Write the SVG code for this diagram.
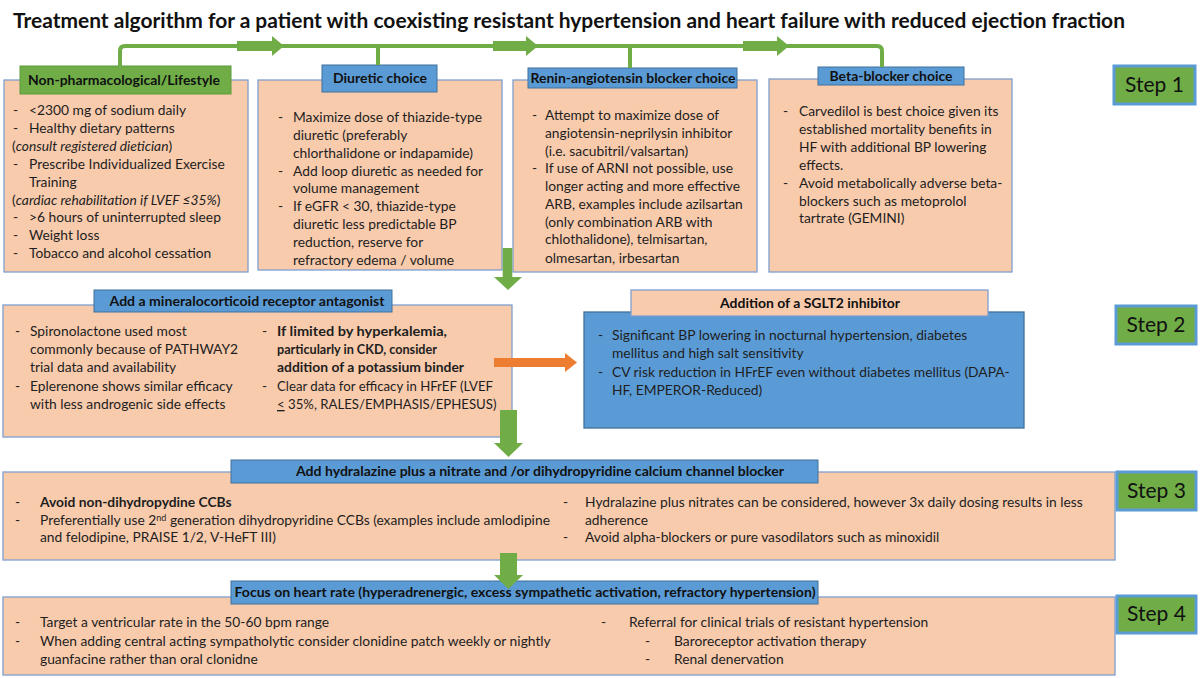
<svg xmlns="http://www.w3.org/2000/svg" width="1200" height="678" viewBox="0 0 1200 678">
<style>
.box{fill:#f8cbad;stroke:#7f9fcf;stroke-width:1.3}
.lbl{fill:#5b9bd5;stroke:#41719c;stroke-width:1}
.plbl{fill:#f8cbad;stroke:#7f9fcf;stroke-width:1.3}
.blue{fill:#5b9bd5;stroke:#41719c;stroke-width:1.3}
.glbl{fill:#70ad47;stroke:#5b9b3a;stroke-width:1}
.step{fill:#70ad47;stroke:#5b9bd5;stroke-width:3}
.t{font-family:Lato,"Liberation Sans",sans-serif;font-size:13.8px;fill:#1e1e1e}
.r{font-size:13.2px}
.b{font-weight:bold}
.h{font-family:Lato,"Liberation Sans",sans-serif;font-size:14px;font-weight:bold;fill:#111;text-anchor:middle}
.st{font-family:Lato,"Liberation Sans",sans-serif;font-size:21px;fill:#111;text-anchor:middle}
.gl{fill:none;stroke:#70ad47;stroke-width:4}
.ga{fill:#70ad47}
.oa{fill:#ed7d31}
</style>
<rect width="1200" height="678" fill="#ffffff"/>
<text x="13" y="28" font-family="Lato,'Liberation Sans',sans-serif" font-size="20" font-weight="bold" fill="#111" textLength="1112" lengthAdjust="spacingAndGlyphs">Treatment algorithm for a patient with coexisting resistant hypertension and heart failure with reduced ejection fraction</text>

<g id="nonpharm">
<rect class="box" x="4" y="80" width="244" height="192"/>
<rect class="glbl" x="20" y="66" width="211" height="28"/>
<text class="h" x="124" y="85" textLength="192" lengthAdjust="spacingAndGlyphs">Non-pharmacological/Lifestyle</text>
<g class="t">
<text x="13" y="115">-</text><text x="29" y="115">&lt;2300 mg of sodium daily</text>
<text x="13" y="133">-</text><text x="29" y="133">Healthy dietary patterns</text>
<text x="12" y="151">(<tspan font-style="italic">consult registered dietician</tspan>)</text>
<text x="13" y="169">-</text><text x="29" y="169">Prescribe Individualized Exercise</text>
<text x="29" y="187">Training</text>
<text x="12" y="205">(<tspan font-style="italic">cardiac rehabilitation if LVEF ≤35%</tspan>)</text>
<text x="13" y="222">-</text><text x="29" y="222">&gt;6 hours of uninterrupted  sleep</text>
<text x="13" y="240">-</text><text x="29" y="240">Weight loss</text>
<text x="13" y="258">-</text><text x="29" y="258">Tobacco and alcohol cessation</text>
</g>
</g>

<g id="diuretic">
<rect class="box" x="258" y="80" width="244" height="190"/>
<rect class="lbl" x="322" y="65" width="115" height="27"/>
<text class="h" x="380" y="83" textLength="94" lengthAdjust="spacingAndGlyphs">Diuretic choice</text>
<g class="t">
<text x="278" y="122">-</text><text x="293" y="122">Maximize dose of thiazide-type</text>
<text x="293" y="140">diuretic (preferably</text>
<text x="293" y="158">chlorthalidone or indapamide)</text>
<text x="278" y="176">-</text><text x="293" y="176">Add loop diuretic as needed for</text>
<text x="293" y="193">volume management</text>
<text x="278" y="211">-</text><text x="293" y="211">If eGFR &lt; 30, thiazide-type</text>
<text x="293" y="229">diuretic less predictable BP</text>
<text x="293" y="247">reduction, reserve for</text>
<text x="293" y="265">refractory edema / volume</text>
</g>
</g>

<g id="ras">
<rect class="box" x="513" y="80" width="244" height="192"/>
<rect class="lbl" x="528" y="68" width="209" height="20"/>
<text class="h" x="633" y="83" textLength="205" lengthAdjust="spacingAndGlyphs">Renin-angiotensin blocker choice</text>
<g class="t">
<text x="532" y="120">-</text><text x="545" y="120">Attempt to maximize dose of</text>
<text x="545" y="138">angiotensin-neprilysin inhibitor</text>
<text x="545" y="156">(i.e. sacubitril/valsartan)</text>
<text x="532" y="173">-</text><text x="545" y="173">If use of ARNI not possible, use</text>
<text x="545" y="191">longer acting and more effective</text>
<text x="545" y="209">ARB, examples include azilsartan</text>
<text x="545" y="227">(only combination  ARB with</text>
<text x="545" y="244">chlothalidone), telmisartan,</text>
<text x="545" y="263">olmesartan, irbesartan</text>
</g>
</g>

<g id="beta">
<rect class="box" x="769" y="79" width="243" height="193"/>
<rect class="lbl" x="818" y="67" width="146" height="18"/>
<text class="h" x="891" y="81" font-size="12" textLength="123" lengthAdjust="spacingAndGlyphs">Beta-blocker choice</text>
<g class="t">
<text x="783" y="116">-</text><text x="799" y="116">Carvedilol is best choice given its</text>
<text x="799" y="134">established mortality benefits in</text>
<text x="799" y="152">HF with additional BP lowering</text>
<text x="799" y="170">effects.</text>
<text x="783" y="188">-</text><text x="799" y="188">Avoid metabolically adverse beta-</text>
<text x="799" y="206">blockers such as metoprolol</text>
<text x="799" y="223">tartrate (GEMINI)</text>
</g>
</g>

<g id="step1"><rect class="step" x="1114" y="66" width="81" height="38"/><text class="st" x="1154.5" y="92">Step 1</text></g>

<g id="mra">
<rect class="box" x="3" y="305" width="509" height="132"/>
<rect class="lbl" x="94" y="290" width="298" height="22"/>
<text class="h" x="247" y="306" textLength="275" lengthAdjust="spacingAndGlyphs">Add a mineralocorticoid receptor antagonist</text>
<g class="t">
<text x="15" y="336">-</text><text x="30" y="336">Spironolactone  used most</text>
<text x="30" y="354">commonly  because of PATHWAY2</text>
<text x="30" y="372">trial data and availability</text>
<text x="15" y="391">-</text><text x="30" y="391">Eplerenone  shows similar efficacy</text>
<text x="30" y="409">with less androgenic side effects</text>
<text x="262" y="336">-</text><text class="b r" x="277" y="336" textLength="170" lengthAdjust="spacingAndGlyphs">If limited by hyperkalemia,</text>
<text class="b r" x="277" y="354" textLength="160" lengthAdjust="spacingAndGlyphs">particularly in CKD, consider</text>
<text class="b r" x="277" y="372" textLength="187" lengthAdjust="spacingAndGlyphs">addition of a potassium binder</text>
<text x="262" y="391">-</text><text class="r" x="277" y="391">Clear data for efficacy in HFrEF (LVEF</text>
<text class="r" x="277" y="409"><tspan text-decoration="underline">&lt;</tspan> 35%, RALES/EMPHASIS/EPHESUS)</text>
</g>
</g>

<g id="sglt2">
<rect class="blue" x="584" y="312" width="440" height="116"/>
<rect class="plbl" x="631" y="290" width="357" height="26"/>
<text class="h" x="810" y="308" textLength="180" lengthAdjust="spacingAndGlyphs">Addition of a SGLT2 inhibitor</text>
<g class="t">
<text x="598" y="340">-</text><text x="612" y="340">Significant BP lowering in nocturnal  hypertension, diabetes</text>
<text x="612" y="358">mellitus and high salt sensitivity</text>
<text x="598" y="377">-</text><text x="612" y="377">CV risk reduction in HFrEF even without  diabetes mellitus (DAPA-</text>
<text x="612" y="395">HF, EMPEROR-Reduced)</text>
</g>
</g>

<g id="step2"><rect class="step" x="1116" y="306" width="80" height="38"/><text class="st" x="1156" y="332">Step 2</text></g>

<g id="ccb">
<rect class="box" x="3" y="472" width="1112" height="88"/>
<rect class="lbl" x="231" y="460" width="587" height="23"/>
<text class="h" x="540" y="476" textLength="488" lengthAdjust="spacingAndGlyphs">Add hydralazine plus a nitrate and /or dihydropyridine calcium channel blocker</text>
<g class="t">
<text x="15" y="507">-</text><text class="b" x="40" y="507">Avoid non-dihydropydine CCBs</text>
<text x="15" y="525">-</text><text x="40" y="525">Preferentially use 2<tspan font-size="9" dy="-4">nd</tspan><tspan dy="4"> generation dihydropyridine  CCBs (examples include amlodipine</tspan></text>
<text x="40" y="542">and felodipine, PRAISE 1/2, V-HeFT III)</text>
<text x="563" y="507">-</text><text x="585" y="507">Hydralazine plus nitrates can be considered, however 3x daily dosing results in less</text>
<text x="585" y="525">adherence</text>
<text x="563" y="542">-</text><text x="585" y="542">Avoid alpha-blockers or pure vasodilators such as minoxidil</text>
</g>
</g>

<g id="step3"><rect class="step" x="1117" y="472" width="79" height="38"/><text class="st" x="1156.5" y="498">Step 3</text></g>

<g id="hr">
<rect class="box" x="3" y="597" width="1112" height="78"/>
<rect class="lbl" x="231" y="581" width="587" height="23"/>
<text class="h" x="525" y="597" textLength="581" lengthAdjust="spacingAndGlyphs">Focus on heart rate (hyperadrenergic, excess sympathetic activation, refractory hypertension)</text>
<g class="t">
<text x="15" y="627">-</text><text x="40" y="627">Target a ventricular rate in the 50-60 bpm range</text>
<text x="15" y="646">-</text><text x="40" y="646">When adding central acting sympatholytic consider clonidine patch weekly or nightly</text>
<text x="40" y="664">guanfacine rather than oral clonidne</text>
<text x="601" y="627">-</text><text x="629" y="627">Referral for clinical trials of resistant hypertension</text>
<text x="645" y="646">-</text><text x="674" y="646">Baroreceptor activation therapy</text>
<text x="645" y="664">-</text><text x="674" y="664">Renal denervation</text>
</g>
</g>

<g id="step4"><rect class="step" x="1117" y="596" width="79" height="37"/><text class="st" x="1156.5" y="621">Step 4</text></g>

<g id="connectors">
<path class="gl" d="M120,67 V51 Q120,46 125,46 H877 Q882,46 882,51 V67"/>
<path class="gl" d="M378,46 V65 M630,46 V68"/>
<rect class="ga" x="237" y="41" width="36" height="10"/><polygon class="ga" points="272,36 284,46 272,56"/>
<rect class="ga" x="493" y="41" width="34" height="10"/><polygon class="ga" points="526,36 538,46 526,56"/>
<rect class="ga" x="743" y="41" width="35" height="10"/><polygon class="ga" points="777,36 789,46 777,56"/>
<rect class="ga" x="502.7" y="248" width="9.6" height="30"/><polygon class="ga" points="494,277 522,277 508,290"/>
<rect class="ga" x="500" y="410" width="17" height="34"/><polygon class="ga" points="494,443 523,443 508.5,457"/>
<rect class="ga" x="500" y="553" width="17" height="23"/><polygon class="ga" points="494,575 523,575 508.5,589"/>
<rect class="oa" x="494" y="358" width="72" height="9"/><polygon class="oa" points="565,353 577,362.5 565,372"/>
</g>
</svg>
